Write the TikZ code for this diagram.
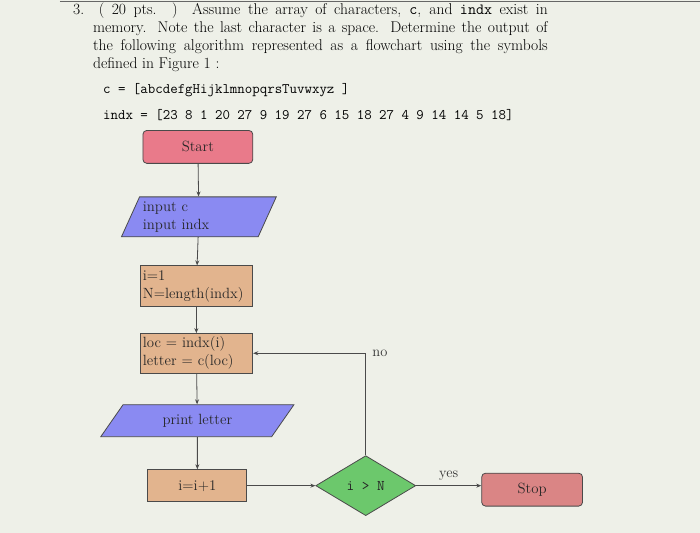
\documentclass[tikz,border=0pt]{standalone}
\usetikzlibrary{shapes.geometric,arrows.meta}
\definecolor{bgc}{HTML}{EEF0E8}
\definecolor{startc}{HTML}{E97A8A}
\definecolor{inpc}{HTML}{8A8AF2}
\definecolor{procc}{HTML}{E2B48E}
\definecolor{decc}{HTML}{6CC86C}
\definecolor{stopc}{HTML}{DA8585}
\definecolor{edgec}{HTML}{4A4A4A}
\begin{document}
\begin{tikzpicture}[x=1pt,y=-1pt,
  base/.style={draw=edgec, line width=0.8pt, font=\fontsize{14.8}{18}\selectfont, text=black!85},
  term/.style={base, rounded corners=4pt, minimum width=110pt, minimum height=33pt},
  io/.style={base, fill=inpc, trapezium, trapezium left angle=64, trapezium right angle=116, trapezium stretches=true},
  proc/.style={base, fill=procc, rectangle},
  dec/.style={base, fill=decc, diamond, aspect=1.7, minimum width=100pt, minimum height=60pt, inner sep=1pt},
  arr/.style={draw=edgec, line width=0.8pt, -{Stealth[length=5pt,width=4pt]}},
  lbl/.style={font=\fontsize{14.5}{16}\selectfont, text=black!80}]
\fill[bgc] (0,0) rectangle (700,533);
\draw[black!60, line width=1pt] (60,1) -- (700,1);
% question text
\node[anchor=north west, inner sep=0pt, text width=475pt, align=justify] (q) at (73,3)
  {\fontsize{15.6}{18}\selectfont\hangindent=20pt\hangafter=1\noindent
   3. ( 20 pts.\quad) Assume the array of characters, \texttt{c}, and \texttt{indx} exist in\linebreak
   memory. Note the last character is a space. Determine the output of\linebreak
   the following algorithm represented as a flowchart using the symbols\linebreak
   defined in Figure 1 :\par};
\node[anchor=west, inner sep=0pt, font=\fontsize{14.5}{17}\ttfamily] (cl) at (103,90) {c = [abcdefgHijklmnopqrsTuvwxyz ]};
\node[anchor=west, inner sep=0pt, font=\fontsize{14.5}{17}\ttfamily] (il) at (103,115) {indx = [23 8 1 20 27 9 19 27 6 15 18 27 4 9 14 14 5 18]};
% flowchart
\node[term, fill=startc] (start) at (198,147) {Start};
\node[io, minimum width=138pt, minimum height=40pt, text width=112pt, align=left] (inp) at (199,217) {input c\\input indx};
\node[proc, minimum width=113pt, minimum height=41pt, text width=107pt, align=left, inner xsep=3pt] (init) at (196.5,286.5) {i=1\\N=length(indx)};
\node[proc, minimum width=113pt, minimum height=39pt, text width=107pt, align=left, inner xsep=3pt] (loc) at (196.5,353.5) {loc = indx(i)\\letter = c(loc)};
\node[io, trapezium left angle=60, trapezium right angle=120, minimum width=195pt, minimum height=32pt] (prt) at (197.5,421) {print letter};
\node[proc, minimum width=99pt, minimum height=32pt] (inc) at (197.5,486) {i=i+1};
\node[dec] (cond) at (366,486) {\ttfamily i > N};
\node[term, fill=stopc, minimum width=101pt] (stop) at (532.5,490) {Stop};
% connectors
\draw[arr] (start) -- (inp);
\draw[arr] (inp) -- (init);
\draw[arr] (init) -- (loc);
\draw[arr] (loc) -- (prt);
\draw[arr] (prt) -- (inc);
\draw[arr] (inc) -- (cond);
\draw[arr] (cond.east) -- node[lbl, above, yshift=1pt] {yes} (stop.west |- cond.east);
\draw[arr] (cond.north) |- node[lbl, pos=0.5, anchor=west, xshift=3pt] {no} (loc.east);
\end{tikzpicture}
\end{document}
